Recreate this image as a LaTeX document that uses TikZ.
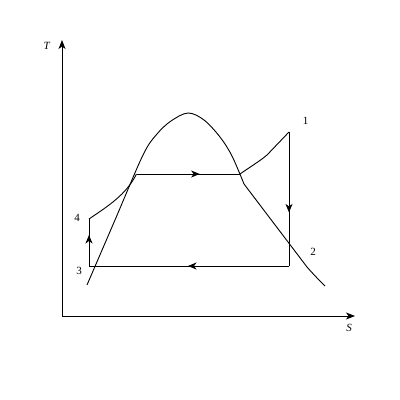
\documentclass[tikz,border=0pt]{standalone}
\usepackage{fontspec}
\setmainfont{Liberation Serif}
\usetikzlibrary{arrows.meta,decorations.markings}
\tikzset{
  line/.style={line width=0.9pt, line join=round},
  midarrow/.style={postaction={decorate},
    decoration={markings, mark=at position #1 with {\arrow{Stealth[length=8.5pt,width=7pt,inset=2.5pt]}}}},
  lbl/.style={font=\fontsize{11}{13}\selectfont, inner sep=0pt},
}
\begin{document}
\begin{tikzpicture}[x=1pt,y=-1pt]
\useasboundingbox[fill=white] (0,0) rectangle (400,400);
% axes
\coordinate (O) at (62,316);
\coordinate (Ty) at (62,40);
\coordinate (Sx) at (355,316);
\draw[line,-{Stealth[length=9pt,width=7pt,inset=2.5pt]}] (O) -- (Ty);
\draw[line,-{Stealth[length=9pt,width=7pt,inset=2.5pt]}] (O) -- (Sx);
\node[lbl] (T) at (47,46) {\textit{T}};
\node[lbl] (S) at (349,328) {\textit{S}};
% saturation dome
\draw[line] plot[smooth, tension=0.55] coordinates {(87,285) (115,220) (143,155) (157,134) (171,121) (188,113) (204,120) (220,137) (232,156) (244,184)}
  -- (307,267) .. controls (314,275) and (319,280) .. (325,286);
% cycle points
\coordinate (p4) at (89,219);
\coordinate (p3) at (89,266);
\coordinate (p2) at (289,266);
\coordinate (p1) at (289,132);
\coordinate (a) at (136.5,174);
\coordinate (b) at (240,174);
\coordinate (k) at (267,155);
\draw[line] (p4) .. controls (108,206) and (126,195) .. (a);
\draw[line,midarrow=0.61] (a) -- (b);
\draw[line] (b) .. controls (250,167) and (260,161) .. (k) -- (p1);
\draw[line,midarrow=0.6] (p1) -- (p2);
\draw[line,midarrow=0.505] (p2) -- (p3);
\draw[line,midarrow=0.66] (p3) -- (p4);
% labels
\node[lbl] (l1) at (305.5,121) {1};
\node[lbl] (l2) at (313,252) {2};
\node[lbl] (l3) at (79,271) {3};
\node[lbl] (l4) at (77,218) {4};
\end{tikzpicture}
\end{document}
